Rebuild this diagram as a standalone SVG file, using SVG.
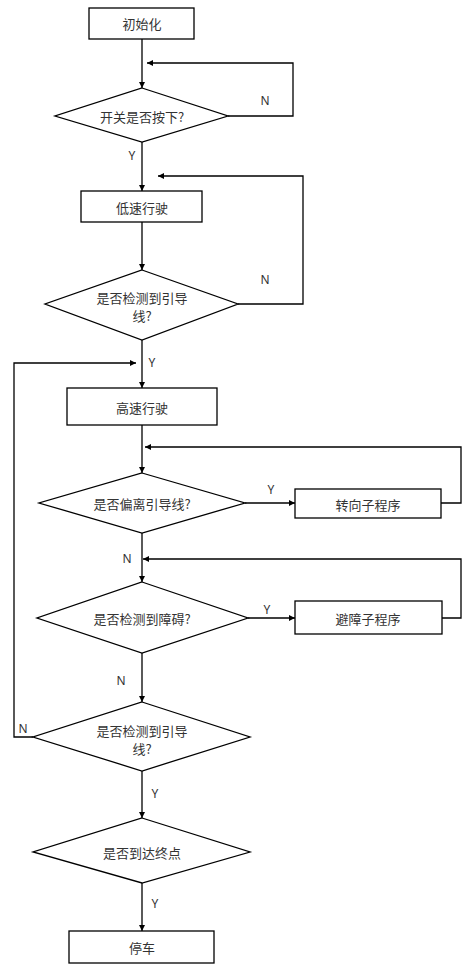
<svg xmlns="http://www.w3.org/2000/svg" width="474" height="971" viewBox="0 0 474 971">
<defs>
<marker id="ah" viewBox="0 0 10 10" refX="10" refY="5" markerWidth="6" markerHeight="6" orient="auto" markerUnits="userSpaceOnUse">
<path d="M0,0 L10,5 L0,10 z" fill="#000"/>
</marker>
<style>
.n{fill:#fff;stroke:#000;stroke-width:1.3}
.t{font-family:"Noto Sans CJK SC","Noto Sans",sans-serif;font-size:13px;fill:#333;text-anchor:middle;dominant-baseline:central}
.l{font-family:"Noto Sans","Liberation Sans",sans-serif;font-size:12px;fill:#333;text-anchor:middle;dominant-baseline:central}
.c{fill:none;stroke:#000;stroke-width:1.3}
</style>
</defs>
<rect width="474" height="971" fill="#fff"/>
<g id="connectors">
<path class="c" d="M142,39 V88" marker-end="url(#ah)"/>
<path class="c" d="M228,116 H293 V63 H147" marker-end="url(#ah)"/>
<path class="c" d="M142,142 V191" marker-end="url(#ah)"/>
<path class="c" d="M142,222 V270" marker-end="url(#ah)"/>
<path class="c" d="M238,304 H303 V176 H158" marker-end="url(#ah)"/>
<path class="c" d="M142,340 V388" marker-end="url(#ah)"/>
<path class="c" d="M142,425 V473" marker-end="url(#ah)"/>
<path class="c" d="M245,503 H295" marker-end="url(#ah)"/>
<path class="c" d="M441,503 H461 V447 H145" marker-end="url(#ah)"/>
<path class="c" d="M142,533 V582" marker-end="url(#ah)"/>
<path class="c" d="M248,618 H295" marker-end="url(#ah)"/>
<path class="c" d="M442,618 H461 V559 H143" marker-end="url(#ah)"/>
<path class="c" d="M142,653 V702" marker-end="url(#ah)"/>
<path class="c" d="M33,737 H14 V363 H136" marker-end="url(#ah)"/>
<path class="c" d="M142,771 V818" marker-end="url(#ah)"/>
<path class="c" d="M142,883 V931" marker-end="url(#ah)"/>
<text class="l" x="265" y="100">N</text>
<text class="l" x="132" y="155">Y</text>
<text class="l" x="265" y="279">N</text>
<text class="l" x="152" y="362">Y</text>
<text class="l" x="271" y="489">Y</text>
<text class="l" x="127" y="558">N</text>
<text class="l" x="267" y="609">Y</text>
<text class="l" x="121" y="680">N</text>
<text class="l" x="23" y="728">N</text>
<text class="l" x="155" y="793">Y</text>
<text class="l" x="155" y="903">Y</text>
</g>
<g id="init"><rect class="n" x="89" y="8" width="105" height="31"/><text class="t" x="142" y="23">初始化</text></g>
<g id="switch"><path class="n" d="M142,88 L228,116 L142,142 L55,116 z"/><text class="t" x="142" y="116">开关是否按下?</text></g>
<g id="lowspeed"><rect class="n" x="81" y="191" width="121" height="31"/><text class="t" x="142" y="207">低速行驶</text></g>
<g id="detect1"><path class="n" d="M142,270 L238,304 L142,340 L45,304 z"/><text class="t" x="142" y="297">是否检测到引导</text><text class="t" x="142" y="315">线?</text></g>
<g id="highspeed"><rect class="n" x="67" y="388" width="150" height="37"/><text class="t" x="142" y="407">高速行驶</text></g>
<g id="deviate"><path class="n" d="M142,473 L245,503 L142,533 L39,503 z"/><text class="t" x="142" y="503">是否偏离引导线?</text></g>
<g id="turn"><rect class="n" x="295" y="489" width="146" height="29"/><text class="t" x="368" y="504">转向子程序</text></g>
<g id="obstacle"><path class="n" d="M142,582 L248,618 L142,653 L37,618 z"/><text class="t" x="142" y="618">是否检测到障碍?</text></g>
<g id="avoid"><rect class="n" x="295" y="601" width="147" height="33"/><text class="t" x="368" y="618">避障子程序</text></g>
<g id="detect2"><path class="n" d="M142,702 L250,737 L142,771 L33,737 z"/><text class="t" x="142" y="730">是否检测到引导</text><text class="t" x="142" y="748">线?</text></g>
<g id="endpoint"><path class="n" d="M142,818 L250,852 L142,883 L33,852 z"/><text class="t" x="142" y="852">是否到达终点</text></g>
<g id="stop"><rect class="n" x="69" y="931" width="145" height="32"/><text class="t" x="142" y="947">停车</text></g>
</svg>
